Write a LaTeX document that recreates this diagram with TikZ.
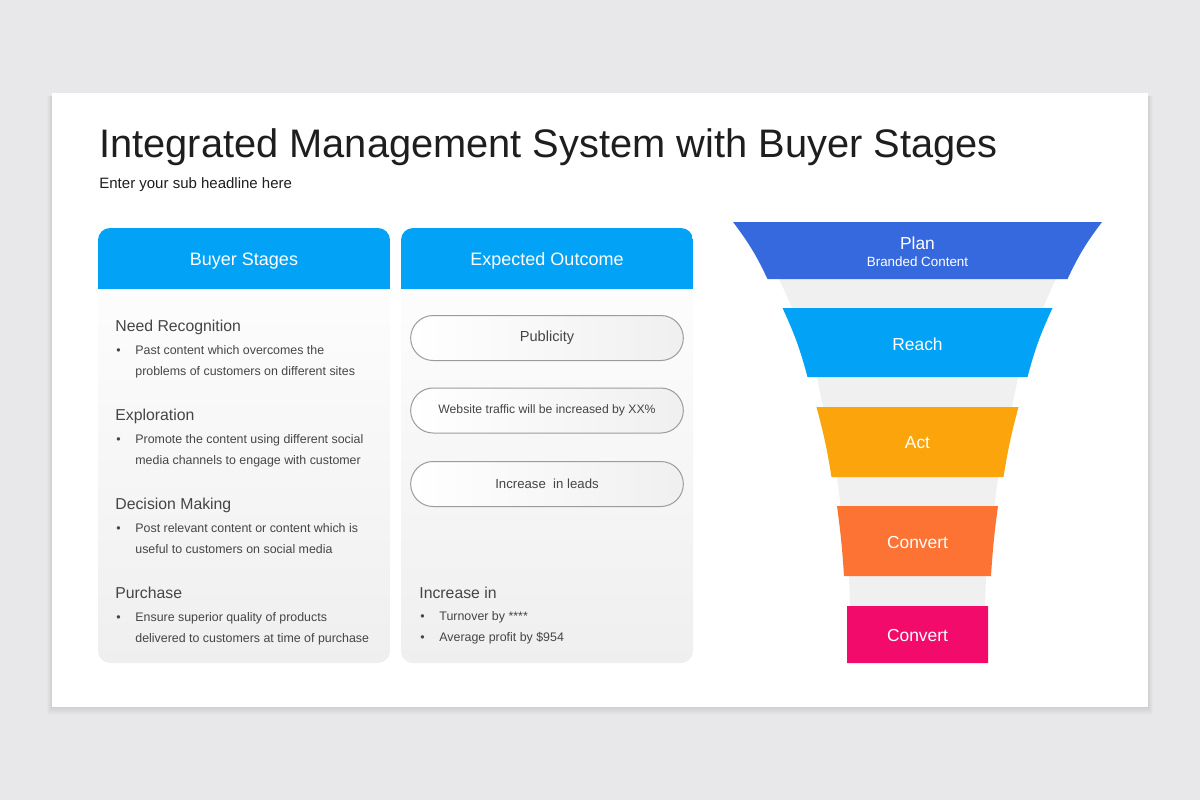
\documentclass[tikz,border=0pt]{standalone}
\usepackage{fontspec}
\setmainfont{Liberation Sans}
\usetikzlibrary{shapes.misc}

\definecolor{fondo}{HTML}{E8E7E9}
\definecolor{titulocol}{HTML}{1E1E1E}
\definecolor{textocol}{HTML}{454545}
\definecolor{cabecera}{HTML}{02A2F7}
\definecolor{tarjetagris}{HTML}{EFEFEF}
\definecolor{bordepildora}{HTML}{9C9C9C}
\definecolor{embudogris}{HTML}{F0F0F0}
\definecolor{planazul}{HTML}{3569DD}
\definecolor{naranja}{HTML}{FBA40B}
\definecolor{naranjarojo}{HTML}{FC7333}
\definecolor{rosa}{HTML}{F30B6B}

\tikzset{
  titulo/.style={anchor=base west, inner sep=0, text=titulocol,
    font=\fontsize{19.9}{24}\selectfont},
  subtitulo/.style={anchor=base west, inner sep=0, text=titulocol,
    font=\fontsize{7.5}{9}\selectfont},
  cabtexto/.style={anchor=base, inner sep=0, text=white,
    font=\fontsize{9}{11}\selectfont},
  etapa/.style={anchor=base west, inner sep=0, text=textocol,
    font=\fontsize{7.9}{10}\selectfont},
  texto/.style={anchor=base west, inner sep=0, text=textocol,
    font=\fontsize{6.2}{8}\selectfont},
  vineta/.style={anchor=base west, inner sep=0, text=textocol,
    font=\fontsize{6.2}{8}\selectfont},
  pildora/.style={rounded rectangle, draw=bordepildora, line width=0.5pt,
    left color=white, right color=black!6, minimum width=143pt,
    minimum height=22.5pt, text=textocol, font=\fontsize{6.1}{8}\selectfont},
  embudotexto/.style={anchor=base, inner sep=0, text=white,
    font=\fontsize{8.7}{11}\selectfont},
  embudosub/.style={anchor=base, inner sep=0, text=white,
    font=\fontsize{6.7}{8}\selectfont},
}

\begin{document}
\begin{tikzpicture}[x=0.5pt,y=-0.5pt]
  \def\fx{917.5}  % eje del embudo

  % fondo y diapositiva
  \fill[fondo] (0,0) rectangle (1200,800);
  \useasboundingbox (0,0) rectangle (1200,800);
  \foreach \s in {1,...,8}
    \fill[black, opacity=0.012] (52-0.6*\s,93+3) rectangle (1148+0.6*\s,707+\s);
  \fill[white] (52,93) rectangle (1148,707);

  % título
  \node[titulo] (titulo) at (99,157) {Integrated Management System with Buyer Stages};
  \node[subtitulo] (sub) at (99,188) {Enter your sub headline here};

  % tarjetas
  \foreach \cx/\name/\head in {98/buyer/Buyer Stages, 401/outcome/Expected Outcome} {
    \begin{scope}
      \clip[rounded corners=6pt] (\cx,228) rectangle ++(292,435);
      \shade[top color=white, bottom color=tarjetagris] (\cx,228) rectangle ++(292,435);
      \fill[cabecera] (\cx,228) rectangle ++(292,61);
    \end{scope}
    \node[cabtexto] (h\name) at (\cx+146,265) {\head};
  }

  % etapas del comprador
  \foreach \y/\name/\head/\la/\lb in {
      331/need/Need Recognition/Past content which overcomes the/problems of customers on different sites,
      420/explo/Exploration/Promote the content using different social/media channels to engage with customer,
      509/decision/Decision Making/Post relevant content or content which is/useful to customers on social media,
      598/purchase/Purchase/Ensure superior quality of products/delivered to customers at time of purchase} {
    \node[etapa] (\name) at (115,\y) {\head};
    \node[vineta] (\name-b) at (116,\y+23) {\textbullet};
    \node[texto] (\name-1) at (135,\y+23) {\la};
    \node[texto] (\name-2) at (135,\y+44) {\lb};
  }

  % resultados esperados
  \node[pildora, font=\fontsize{7.3}{9}\selectfont] (pub) at (547,338) {Publicity};
  \node[pildora] (web) at (547,410.5) {Website traffic will be increased by XX\%};
  \node[pildora, font=\fontsize{6.6}{8}\selectfont] (leads) at (547,484) {Increase\ \ in leads};

  \node[etapa] (incr) at (419,598) {Increase in};
  \node[vineta] (incr-b1) at (420,620) {\textbullet};
  \node[texto] (incr-1) at (439,620) {Turnover by ****};
  \node[vineta] (incr-b2) at (420,641) {\textbullet};
  \node[texto] (incr-2) at (439,641) {Average profit by \$954};

  % fondo gris del embudo
  \fill[embudogris] (779,279) -- (1056,279) to[bend right=4] (1018,377) -- (998,477)
    -- (986,576) -- (985,606) -- (850,606) -- (849,576) -- (837,477) -- (817,377)
    to[bend right=4] cycle;

  % segmentos del embudo
  \foreach \yt/\wt/\yb/\wb/\b/\col in {222/184.5/279/150/6/planazul,
      308/135/377/110/5/cabecera, 407/101/477/86/3/naranja,
      506/80.5/576/73.5/2/naranjarojo, 606/70.5/663/70.5/0/rosa}
    \fill[\col] (\fx-\wt,\yt) -- (\fx+\wt,\yt) to[bend right=\b] (\fx+\wb,\yb)
      -- (\fx-\wb,\yb) to[bend right=\b] (\fx-\wt,\yt) -- cycle;

  \node[embudotexto] (plan) at (\fx,249) {Plan};
  \node[embudosub] (plan-sub) at (\fx,266.5) {Branded\ Content};
  \node[embudotexto] (reach) at (\fx,350) {Reach};
  \node[embudotexto] (act) at (\fx,448) {Act};
  \node[embudotexto] (convert) at (\fx,548) {Convert};
  \node[embudotexto] (convert2) at (\fx,641) {Convert};
\end{tikzpicture}
\end{document}
